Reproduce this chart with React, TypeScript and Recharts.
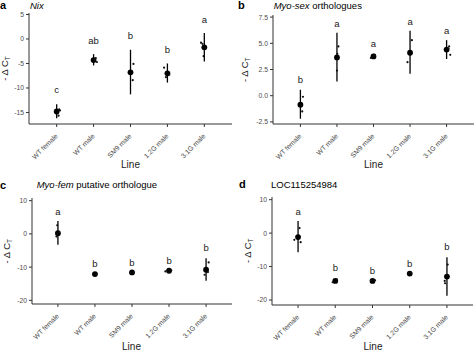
import React from 'react';
import { ComposedChart, Scatter, XAxis, YAxis, ErrorBar } from 'recharts';

const lines = ['WT female', 'WT male', 'SM9 male', '1.2G male', '3.1G male'];

// Panel a: Nix
const nixMean = [-14.8, -4.3, -6.8, -7.0, -1.7];
const nixLow = [-16.2, -5.4, -11.3, -8.9, -4.6];
const nixHigh = [-13.3, -3.1, -2.2, -5.0, 1.2];
const nixLetters = ['c', 'ab', 'b', 'b', 'a'];
const nixLetterY = [-10.4, -0.3, 0.7, -2.2, 4.0];
const nixPtLine = [1, 1, 1, 2, 2, 2, 3, 3, 4, 4, 4, 5, 5, 5];
const nixPtJitter = [0.07, 0.09, 0.05, 0.06, 0.09, 0.03, 0.08, 0.06, -0.09, -0.04, 0.05, -0.09, -0.05, -0.02];
const nixPtValue = [-14.35, -14.6, -15.65, -3.9, -4.7, -4.2, -5.1, -8.4, -5.85, -7.8, -7.3, -0.75, -1.0, -3.5];

// Panel b: Myo-sex orthologues
const sexMean = [-0.86, 3.65, 3.75, 4.1, 4.4];
const sexLow = [-2.2, 1.36, 3.5, 2.1, 3.5];
const sexHigh = [0.57, 6.0, 4.0, 6.2, 5.3];
const sexLetters = ['b', 'a', 'a', 'a', 'a'];
const sexLetterY = [1.5, 6.9, 5.0, 7.1, 6.2];
const sexPtLine = [1, 1, 2, 2, 2, 3, 3, 3, 4, 4, 5, 5, 5];
const sexPtJitter = [0.07, 0.05, 0.04, 0.01, 0.0, -0.07, 0.04, 0.02, 0.05, -0.07, 0.07, 0.05, 0.1];
const sexPtValue = [-0.1, -1.5, 4.7, 4.0, 2.4, 3.6, 3.9, 3.8, 5.3, 3.2, 4.7, 4.5, 3.9];

// Panel c: Myo-fem putative orthologue
const femMean = [0.2, -12.1, -11.6, -11.1, -10.8];
const femLow = [-3.3, -12.4, -11.9, -11.4, -14.1];
const femHigh = [3.9, -11.8, -11.3, -10.8, -7.3];
const femLetters = ['a', 'b', 'b', 'b', 'b'];
const femLetterY = [6.7, -9.1, -8.8, -8.0, -4.3];
const femPtLine = [1, 1, 1, 2, 2, 3, 3, 4, 4, 5, 5, 5];
const femPtJitter = [-0.02, -0.04, 0.03, -0.05, 0.04, -0.04, 0.05, -0.1, 0.06, 0.07, 0.05, -0.04];
const femPtValue = [2.6, -0.8, 0.5, -12.2, -12.1, -11.8, -11.7, -11.3, -11.0, -8.6, -11.5, -12.3];

// Panel d: LOC115254984
const locMean = [-1.2, -14.3, -14.3, -12.1, -13.0];
const locLow = [-5.7, -14.7, -14.5, -12.3, -18.7];
const locHigh = [3.6, -13.9, -14.1, -11.9, -7.2];
const locLetters = ['a', 'b', 'b', 'b', 'b'];
const locLetterY = [6.5, -10.2, -11.2, -9.2, -4.2];
const locPtLine = [1, 1, 1, 2, 2, 3, 3, 4, 4, 5, 5, 5];
const locPtJitter = [0.04, -0.1, 0.07, -0.07, 0.04, 0.07, -0.04, -0.04, 0.04, 0.02, -0.06, -0.05];
const locPtValue = [1.5, -2.0, -2.7, -14.7, -13.8, -14.1, -14.2, -12.0, -12.0, -9.4, -14.3, -15.0];

const FONT = '"Liberation Sans", Arial, Helvetica, sans-serif';
const AX = '#333333';
const TICKC = '#4d4d4d';

function buildMeans(mean: number[], low: number[], high: number[]) {
  return mean.map((m, i) => ({ x: i + 1, y: m, err: [m - low[i], high[i] - m] }));
}
function buildLetters(letters: string[], ys: number[]) {
  return letters.map((l, i) => ({ x: i + 1, y: ys[i], label: l }));
}
function buildPoints(line: number[], jit: number[], val: number[]) {
  return line.map((c, i) => ({ x: c + jit[i], y: val[i] }));
}

const bigDot = (p: any) => <circle cx={p.cx} cy={p.cy} r={2.9} fill="#000" />;
const smallDot = (p: any) => <circle cx={p.cx} cy={p.cy} r={1.1} fill="#111" />;
const letterShape = (p: any) => (
  <text x={p.cx} y={p.cy + 3.3} textAnchor="middle" fontSize={9.5} fontFamily={FONT} fill="#1a1a1a">
    {p.payload.label}
  </text>
);

const XTick = (p: any) => {
  const { x, y, payload } = p;
  return (
    <text
      transform={`translate(${x + 1.5},${y + 7.5}) rotate(-45)`}
      textAnchor="end"
      fontSize={6.8}
      fontFamily={FONT}
      fill={TICKC}
    >
      {lines[payload.value - 1]}
    </text>
  );
};

type Cfg = {
  left: number;
  top: number;
  yWidth: number;
  margin: { top: number; right: number; left: number; bottom: number };
  xHeight: number;
  xDomain: [number, number];
  yDomain: [number, number];
  yTicks: number[];
  decimals: number;
  means: any[];
  points: any[];
  letters: any[];
};

function Panel({ c }: { c: Cfg }) {
  return (
    <div style={{ position: 'absolute', left: c.left, top: c.top }}>
      <ComposedChart width={237} height={175} margin={c.margin}>
        <XAxis
          type="number"
          dataKey="x"
          domain={c.xDomain}
          ticks={[1, 2, 3, 4, 5]}
          allowDataOverflow
          interval={0}
          height={c.xHeight}
          tick={<XTick />}
          tickSize={3}
          tickLine={{ stroke: AX }}
          axisLine={{ stroke: AX }}
        />
        <YAxis
          type="number"
          dataKey="y"
          domain={c.yDomain}
          ticks={c.yTicks}
          allowDataOverflow
          interval={0}
          width={c.yWidth}
          tickSize={3}
          tickMargin={2}
          tickLine={{ stroke: AX }}
          axisLine={{ stroke: AX }}
          tick={{ fontSize: 6.8, fill: TICKC, fontFamily: FONT }}
          tickFormatter={(v: number) => v.toFixed(c.decimals)}
        />
        <Scatter data={c.means} shape={bigDot} isAnimationActive={false}>
          <ErrorBar dataKey="err" direction="y" width={0} stroke="#000" strokeWidth={1.3} />
        </Scatter>
        <Scatter data={c.points} shape={smallDot} isAnimationActive={false} />
        <Scatter data={c.letters} shape={letterShape} isAnimationActive={false} />
      </ComposedChart>
    </div>
  );
}

const panels: Cfg[] = [
  {
    left: 0, top: 0, yWidth: 29, margin: { top: 13, right: 5, left: 0, bottom: 0 }, xHeight: 51,
    xDomain: [0.25, 5.75], yDomain: [-17.35, 5.3], yTicks: [-15, -10, -5, 0, 5], decimals: 0,
    means: buildMeans(nixMean, nixLow, nixHigh),
    points: buildPoints(nixPtLine, nixPtJitter, nixPtValue),
    letters: buildLetters(nixLetters, nixLetterY),
  },
  {
    left: 237, top: 0, yWidth: 36, margin: { top: 15, right: 0, left: 0, bottom: 0 }, xHeight: 51,
    xDomain: [0.25, 5.75], yDomain: [-2.7, 7.7], yTicks: [-2.5, 0, 2.5, 5, 7.5], decimals: 1,
    means: buildMeans(sexMean, sexLow, sexHigh),
    points: buildPoints(sexPtLine, sexPtJitter, sexPtValue),
    letters: buildLetters(sexLetters, sexLetterY),
  },
  {
    left: 0, top: 175, yWidth: 32, margin: { top: 23, right: 5, left: 0, bottom: 0 }, xHeight: 46,
    xDomain: [0.3, 5.7], yDomain: [-21.1, 10.8], yTicks: [-20, -10, 0, 10], decimals: 0,
    means: buildMeans(femMean, femLow, femHigh),
    points: buildPoints(femPtLine, femPtJitter, femPtValue),
    letters: buildLetters(femLetters, femLetterY),
  },
  {
    left: 237, top: 175, yWidth: 35, margin: { top: 22, right: 1, left: 0, bottom: 0 }, xHeight: 45,
    xDomain: [0.3, 5.7], yDomain: [-21.5, 10.8], yTicks: [-20, -10, 0, 10], decimals: 0,
    means: buildMeans(locMean, locLow, locHigh),
    points: buildPoints(locPtLine, locPtJitter, locPtValue),
    letters: buildLetters(locLetters, locLetterY),
  },
];

const yLabelPos = [
  { x: 7.5, y: 68.5 },
  { x: 247.5, y: 69.7 },
  { x: 9.5, y: 251.3 },
  { x: 251, y: 250.8 },
];
const lineLabelPos = [
  { x: 130.5, y: 168 },
  { x: 373.5, y: 168 },
  { x: 131.5, y: 349.5 },
  { x: 373, y: 349.5 },
];

function YLab({ x, y }: { x: number; y: number }) {
  return (
    <text transform={`translate(${x},${y}) rotate(-90)`} textAnchor="middle" fontSize={9.5} fontFamily={FONT} fill="#1a1a1a">
      <tspan>- Δ C</tspan>
      <tspan fontSize={6.5} dy={2}>T</tspan>
    </text>
  );
}

export default function App() {
  return (
    <div style={{ position: 'absolute', left: 0, top: 0, width: 474, height: 350, background: '#fff', overflow: 'hidden' }}>
      {panels.map((c, i) => (
        <Panel key={i} c={c} />
      ))}
      <svg width={474} height={350} style={{ position: 'absolute', left: 0, top: 0, pointerEvents: 'none' }}>
        <g fontFamily={FONT} fontWeight="bold" fontSize={11} fill="#000">
          <text x={0} y={8.5}>a</text>
          <text x={238} y={9}>b</text>
          <text x={0} y={189}>c</text>
          <text x={239} y={188}>d</text>
        </g>
        <g fontFamily={FONT} fontSize={9.5} fill="#000">
          <text x={30} y={8.5} fontStyle="italic">Nix</text>
          <text x={273.7} y={8.5}>
            <tspan fontStyle="italic">Myo-sex</tspan>
            <tspan> orthologues</tspan>
          </text>
          <text x={36.7} y={188}>
            <tspan fontStyle="italic">Myo-fem</tspan>
            <tspan> putative orthologue</tspan>
          </text>
          <text x={271} y={188}>LOC115254984</text>
        </g>
        {yLabelPos.map((p, i) => (
          <YLab key={i} x={p.x} y={p.y} />
        ))}
        {lineLabelPos.map((p, i) => (
          <text key={i} x={p.x} y={p.y} textAnchor="middle" fontSize={10} fontFamily={FONT} fill="#1a1a1a">
            Line
          </text>
        ))}
      </svg>
    </div>
  );
}
